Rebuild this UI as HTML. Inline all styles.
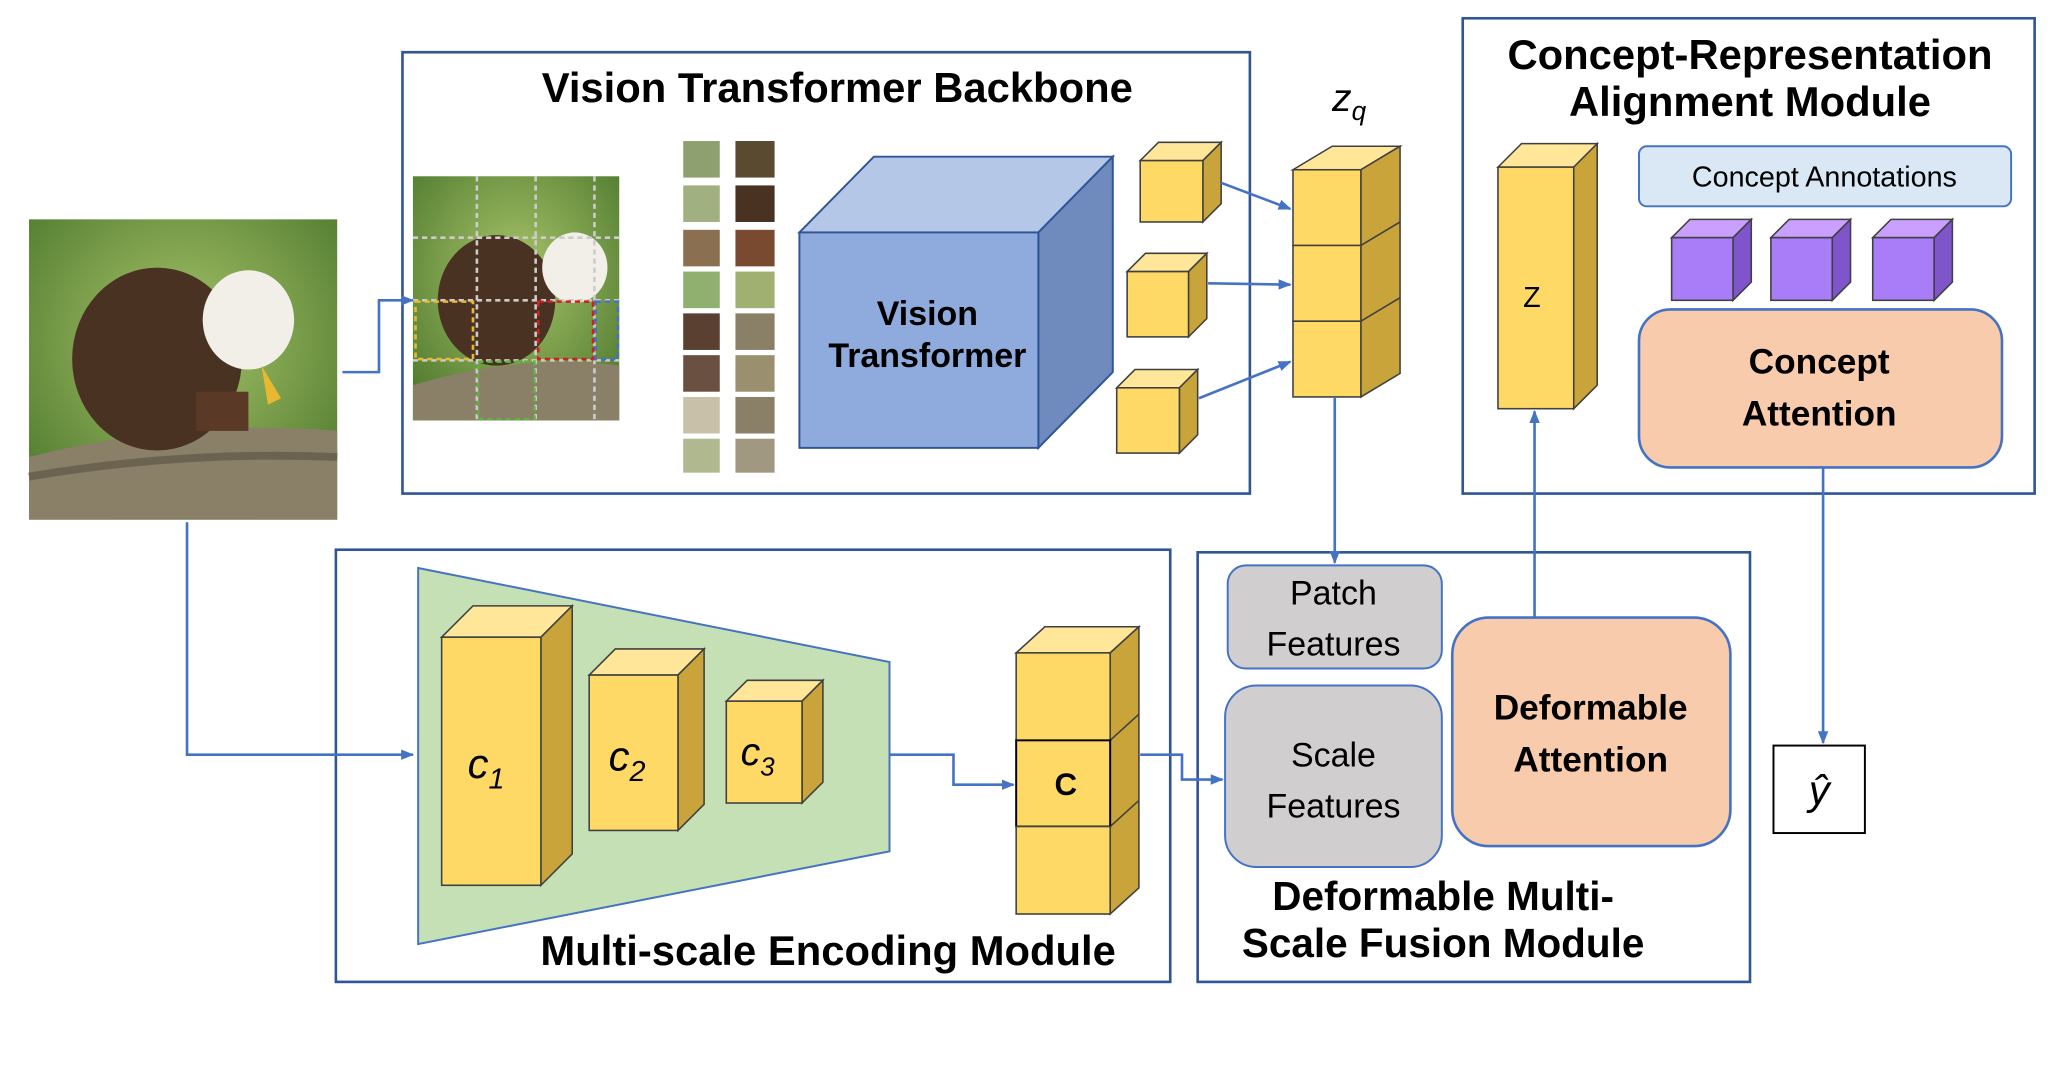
<!DOCTYPE html>
<html><head><meta charset="utf-8"><style>
html,body{margin:0;padding:0;background:#fff;}
svg{display:block;}
text{font-family:"Liberation Sans","DejaVu Sans",sans-serif;}
</style></head><body>
<svg width="2048" height="1072" viewBox="0 0 1568 821" xmlns="http://www.w3.org/2000/svg">
<defs>
<marker id="ar" markerWidth="10" markerHeight="10" refX="9" refY="5" orient="auto" markerUnits="userSpaceOnUse"><path d="M0,1 L10,5 L0,9 z" fill="#4472c4"/></marker>
<radialGradient id="bg" cx="0.5" cy="0.4" r="0.7"><stop offset="0" stop-color="#a8c46a"/><stop offset="1" stop-color="#4f7a2e"/></radialGradient>
</defs>
<rect width="1568" height="821" fill="#fff"/>

<g>
<rect x="22" y="168" width="236" height="230" fill="url(#bg)"/>
<path d="M22,350 Q140,320 258,330 L258,398 L22,398 Z" fill="#8a8068"/>
<path d="M22,365 Q140,345 258,350" stroke="#6b6250" stroke-width="6" fill="none"/>
<ellipse cx="120" cy="275" rx="65" ry="70" fill="#4a3222"/>
<ellipse cx="190" cy="245" rx="35" ry="38" fill="#f1efe8"/>
<path d="M200,280 L215,305 L205,310 Z" fill="#e8b830"/>
<rect x="150" y="300" width="40" height="30" fill="#5a3a26"/>
</g>

<rect x="308" y="40" width="649" height="338" fill="none" stroke="#2f5597" stroke-width="2"/>
<text x="641" y="78" font-size="32" font-weight="bold" text-anchor="middle">Vision Transformer Backbone</text>
<g>
<rect x="316" y="135" width="158" height="187" fill="url(#bg)"/>
<path d="M316,295 Q400,270 474,280 L474,322 L316,322 Z" fill="#8a8068"/>
<ellipse cx="380" cy="230" rx="45" ry="50" fill="#4a3222"/>
<ellipse cx="440" cy="205" rx="25" ry="27" fill="#f1efe8"/>
<g stroke="#ccc" stroke-width="2" stroke-dasharray="4,3" fill="none">
<line x1="316" y1="182" x2="474" y2="182"/><line x1="316" y1="230" x2="474" y2="230"/><line x1="316" y1="276" x2="474" y2="276"/>
<line x1="365" y1="135" x2="365" y2="322"/><line x1="410" y1="135" x2="410" y2="322"/><line x1="455" y1="135" x2="455" y2="322"/>
</g>
<rect x="318" y="231" width="44" height="44" fill="none" stroke="#e8b830" stroke-width="2" stroke-dasharray="4,3"/>
<rect x="412" y="231" width="42" height="44" fill="none" stroke="#d02020" stroke-width="2" stroke-dasharray="4,3"/>
<rect x="456" y="231" width="17" height="44" fill="none" stroke="#4472c4" stroke-width="2" stroke-dasharray="4,3"/>
<rect x="366" y="277" width="43" height="44" fill="none" stroke="#60b040" stroke-width="2" stroke-dasharray="4,3"/>
</g>
<g>
<rect x="523" y="108" width="28" height="28" fill="#8fa070"/><rect x="563" y="108" width="30" height="28" fill="#5a4a30"/>
<rect x="523" y="142" width="28" height="28" fill="#a0b080"/><rect x="563" y="142" width="30" height="28" fill="#4a3222"/>
<rect x="523" y="176" width="28" height="28" fill="#8a7050"/><rect x="563" y="176" width="30" height="28" fill="#7a4a30"/>
<rect x="523" y="208" width="28" height="28" fill="#90b070"/><rect x="563" y="208" width="30" height="28" fill="#a0b070"/>
<rect x="523" y="240" width="28" height="28" fill="#5a4030"/><rect x="563" y="240" width="30" height="28" fill="#8a8068"/>
<rect x="523" y="272" width="28" height="28" fill="#6a5040"/><rect x="563" y="272" width="30" height="28" fill="#9a9070"/>
<rect x="523" y="304" width="28" height="28" fill="#c8c0a8"/><rect x="563" y="304" width="30" height="28" fill="#8a8068"/>
<rect x="523" y="336" width="28" height="26" fill="#b0b890"/><rect x="563" y="336" width="30" height="26" fill="#a09880"/>
</g>
<polygon points="612,178 669,120 852,120 795,178" fill="#b4c7e7" stroke="#2f5597" stroke-width="1.5"/>
<polygon points="795,178 852,120 852,285 795,343" fill="#6f8bbd" stroke="#2f5597" stroke-width="1.5"/>
<rect x="612" y="178" width="183" height="165" fill="#8faadc" stroke="#2f5597" stroke-width="1.5"/>
<text x="710" y="249" font-size="26" font-weight="bold" text-anchor="middle">Vision</text>
<text x="710" y="281" font-size="26" font-weight="bold" text-anchor="middle">Transformer</text>

<g stroke="#404040" stroke-width="1.2">
<polygon points="873,123 887,109 935,109 921,123" fill="#ffe699"/><polygon points="921,123 935,109 935,156 921,170" fill="#c9a43a"/><rect x="873" y="123" width="48" height="47" fill="#ffd966"/>
<polygon points="863,208 877,194 924,194 910,208" fill="#ffe699"/><polygon points="910,208 924,194 924,244 910,258" fill="#c9a43a"/><rect x="863" y="208" width="47" height="50" fill="#ffd966"/>
<polygon points="855,297 869,283 917,283 903,297" fill="#ffe699"/><polygon points="903,297 917,283 917,333 903,347" fill="#c9a43a"/><rect x="855" y="297" width="48" height="50" fill="#ffd966"/>
<polygon points="990,130 1020,112 1072,112 1042,130" fill="#ffe699"/>
<polygon points="1042,130 1072,112 1072,286 1042,304" fill="#c9a43a"/>
<line x1="1042" y1="188" x2="1072" y2="170"/><line x1="1042" y1="246" x2="1072" y2="228"/>
<rect x="990" y="130" width="52" height="58" fill="#ffd966"/>
<rect x="990" y="188" width="52" height="58" fill="#ffd966"/>
<rect x="990" y="246" width="52" height="58" fill="#ffd966"/>
</g>
<text x="1033" y="85" font-size="30" font-style="italic" font-family="Liberation Serif,serif" text-anchor="middle">z<tspan font-size="20" dy="7">q</tspan></text>

<rect x="1120" y="14" width="438" height="364" fill="none" stroke="#2f5597" stroke-width="2"/>
<text x="1340" y="53" font-size="32" font-weight="bold" text-anchor="middle">Concept-Representation</text>
<text x="1340" y="89" font-size="32" font-weight="bold" text-anchor="middle">Alignment Module</text>
<g stroke="#404040" stroke-width="1.2">
<polygon points="1147,128 1165,110 1223,110 1205,128" fill="#ffe699"/>
<polygon points="1205,128 1223,110 1223,295 1205,313" fill="#c9a43a"/>
<rect x="1147" y="128" width="58" height="185" fill="#ffd966"/>
</g>
<text x="1173" y="235" font-size="22" text-anchor="middle">Z</text>
<rect x="1255" y="112" width="285" height="46" rx="6" fill="#dae8f5" stroke="#4472c4" stroke-width="1.5"/>
<text x="1397" y="143" font-size="22" text-anchor="middle">Concept Annotations</text>
<g stroke="#404040" stroke-width="1.2">
<polygon points="1280,182 1294,168 1341,168 1327,182" fill="#c9a0ff"/><polygon points="1327,182 1341,168 1341,216 1327,230" fill="#8055cc"/><rect x="1280" y="182" width="47" height="48" fill="#a97cf8"/>
<polygon points="1356,182 1370,168 1417,168 1403,182" fill="#c9a0ff"/><polygon points="1403,182 1417,168 1417,216 1403,230" fill="#8055cc"/><rect x="1356" y="182" width="47" height="48" fill="#a97cf8"/>
<polygon points="1434,182 1448,168 1495,168 1481,182" fill="#c9a0ff"/><polygon points="1481,182 1495,168 1495,216 1481,230" fill="#8055cc"/><rect x="1434" y="182" width="47" height="48" fill="#a97cf8"/>
</g>
<rect x="1255" y="237" width="278" height="121" rx="24" fill="#f8cbad" stroke="#4472c4" stroke-width="2"/>
<text x="1393" y="286" font-size="27" font-weight="bold" text-anchor="middle">Concept</text>
<text x="1393" y="326" font-size="27" font-weight="bold" text-anchor="middle">Attention</text>
<rect x="1358" y="571" width="70" height="67" fill="#fff" stroke="#000" stroke-width="1.5"/>
<text x="1393" y="616" font-size="32" font-style="italic" font-family="Liberation Serif,serif" text-anchor="middle">ŷ</text>

<rect x="257" y="421" width="639" height="331" fill="none" stroke="#2f5597" stroke-width="2"/>
<polygon points="320,435 681,507 681,652 320,723" fill="#c5e0b4" stroke="#4472c4" stroke-width="1.5"/>
<g stroke="#404040" stroke-width="1.2">
<polygon points="338,488 362,464 438,464 414,488" fill="#ffe699"/><polygon points="414,488 438,464 438,654 414,678" fill="#c9a43a"/><rect x="338" y="488" width="76" height="190" fill="#ffd966"/>
<polygon points="451,517 471,497 539,497 519,517" fill="#ffe699"/><polygon points="519,517 539,497 539,616 519,636" fill="#c9a43a"/><rect x="451" y="517" width="68" height="119" fill="#ffd966"/>
<polygon points="556,537 572,521 630,521 614,537" fill="#ffe699"/><polygon points="614,537 630,521 630,599 614,615" fill="#c9a43a"/><rect x="556" y="537" width="58" height="78" fill="#ffd966"/>
<polygon points="778,500 800,480 872,480 850,500" fill="#ffe699"/>
<polygon points="850,500 872,480 872,680 850,700" fill="#c9a43a"/>
<line x1="850" y1="567" x2="872" y2="547"/><line x1="850" y1="633" x2="872" y2="613"/>
<rect x="778" y="500" width="72" height="67" fill="#ffd966"/>
<rect x="778" y="567" width="72" height="66" fill="#ffd966" stroke="#000" stroke-width="1.5"/>
<rect x="778" y="633" width="72" height="67" fill="#ffd966"/>
</g>
<text x="372" y="596" font-size="32" font-style="italic" font-family="Liberation Serif,serif" text-anchor="middle">c<tspan font-size="22" dy="8">1</tspan></text>
<text x="480" y="590" font-size="32" font-style="italic" font-family="Liberation Serif,serif" text-anchor="middle">c<tspan font-size="22" dy="8">2</tspan></text>
<text x="580" y="586" font-size="30" font-style="italic" font-family="Liberation Serif,serif" text-anchor="middle">c<tspan font-size="20" dy="8">3</tspan></text>
<text x="816" y="609" font-size="24" font-weight="bold" text-anchor="middle">C</text>
<text x="634" y="739" font-size="32" font-weight="bold" text-anchor="middle">Multi-scale Encoding Module</text>

<rect x="917" y="423" width="423" height="329" fill="none" stroke="#2f5597" stroke-width="2"/>
<rect x="940" y="433" width="164" height="79" rx="14" fill="#d0cece" stroke="#4472c4" stroke-width="1.5"/>
<text x="1021" y="463" font-size="26" text-anchor="middle">Patch</text>
<text x="1021" y="502" font-size="26" text-anchor="middle">Features</text>
<rect x="938" y="525" width="166" height="139" rx="24" fill="#d0cece" stroke="#4472c4" stroke-width="1.5"/>
<text x="1021" y="587" font-size="26" text-anchor="middle">Scale</text>
<text x="1021" y="626" font-size="26" text-anchor="middle">Features</text>
<rect x="1112" y="473" width="213" height="175" rx="28" fill="#f8cbad" stroke="#4472c4" stroke-width="2"/>
<text x="1218" y="551" font-size="27" font-weight="bold" text-anchor="middle">Deformable</text>
<text x="1218" y="591" font-size="27" font-weight="bold" text-anchor="middle">Attention</text>
<text x="1105" y="697" font-size="31" font-weight="bold" text-anchor="middle">Deformable Multi-</text>
<text x="1105" y="733" font-size="31" font-weight="bold" text-anchor="middle">Scale Fusion Module</text>

<g stroke="#4472c4" stroke-width="2" fill="none" marker-end="url(#ar)">
<polyline points="262,285 290,285 290,230 316,230"/>
<polyline points="143,400 143,578 316,578"/>
<polyline points="681,578 730,578 730,601 776,601"/>
<polyline points="873,578 905,578 905,597 936,597"/>
<line x1="1022" y1="304" x2="1022" y2="431"/>
<line x1="1175" y1="473" x2="1175" y2="315"/>
<line x1="1396" y1="358" x2="1396" y2="569"/>
<line x1="935" y1="140" x2="988" y2="160"/>
<line x1="925" y1="217" x2="988" y2="218"/>
<line x1="918" y1="305" x2="988" y2="277"/>
</g>
</svg>
</body></html>
